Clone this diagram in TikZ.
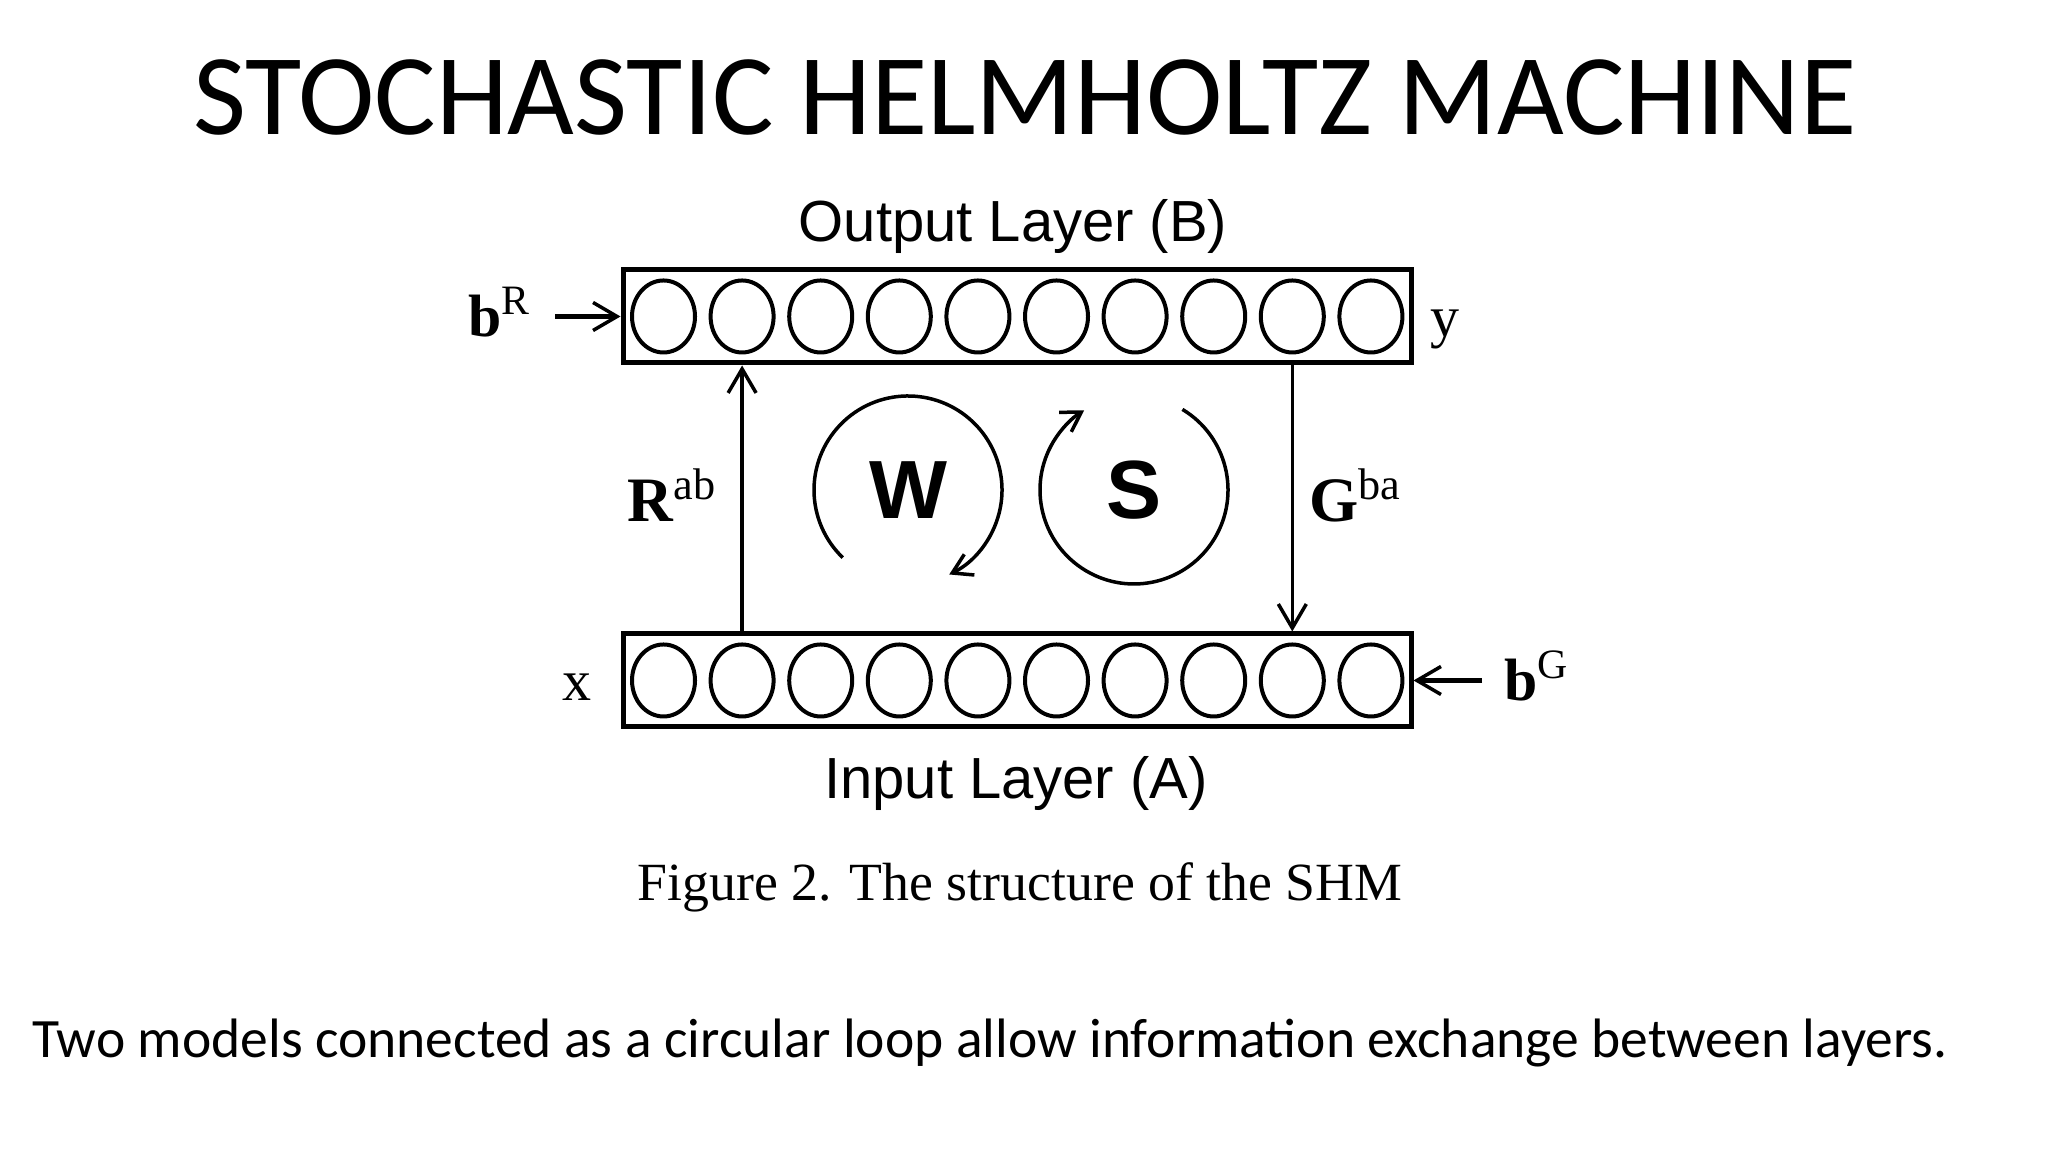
\documentclass[tikz,border=0pt]{standalone}
\usepackage{fontspec}
\setmainfont{Liberation Serif}
\newfontfamily\calibri{Carlito}
\newfontfamily\arial{Liberation Sans}
\usetikzlibrary{shapes.geometric,arrows.meta,positioning}
\tikzset{
	layer/.style={draw, line width=0.5mm, minimum width=78.8mm, minimum height=9.3mm, inner sep=0pt},
	unit/.style={draw, ellipse, line width=0.4mm, minimum width=6.3mm, minimum height=7.2mm, inner sep=0pt},
	feed/.style={line width=0.35mm, -{Straight Barb[length=2.4mm,width=2.8mm,line width=0.35mm]}},
	loop/.style={line width=0.35mm, -{Straight Barb[length=1.9mm,width=2.3mm,line width=0.35mm]}},
	lbl/.style={anchor=base, inner sep=0pt}
}
\begin{document}
\begin{tikzpicture}[x=0.1mm, y=0.1mm]
		\useasboundingbox (0,0) rectangle (2048,1152);
		% title and caption texts
		\node[lbl, font=\calibri\fontsize{32.8}{39}\selectfont] (title) at (1025,1017) {STOCHASTIC HELMHOLTZ MACHINE};
		\node[lbl, font=\calibri\fontsize{15.8}{19}\selectfont] (remark) at (990,94) {Two models connected as a circular loop allow information exchange between layers.};
		\node[lbl, font=\fontsize{15.3}{18}\selectfont] (figcap) at (1020,251) {Figure 2. The structure of the SHM};
		% the two layers
		\node[layer] (outbox) at (1017,835.5) {};
		\node[layer] (inbox) at (1017,471.5) {};
		\foreach \i in {1,...,10} {
			\node[unit] (b\i) at ({663.5+78.6*(\i-1)},835.5) {};
			\node[unit] (a\i) at ({663.5+78.6*(\i-1)},471.5) {};
		}
		\node[lbl, font=\arial\fontsize{16.5}{19}\selectfont] (outname) at (1013,910) {Output Layer (B)};
		\node[lbl, font=\arial\fontsize{16.5}{19}\selectfont] (inname) at (1016,353) {Input Layer (A)};
		% side labels
		\node[lbl, font=\fontsize{16.5}{19}\selectfont] (ylab) at (1445,815) {y};
		\node[lbl, font=\fontsize{16.5}{19}\selectfont] (xlab) at (577,451) {x};
		\node[lbl, font=\fontsize{17}{20}\selectfont] (bR) at (500,815) {\textbf{b}\textsuperscript{R}};
		\node[lbl, font=\fontsize{17}{20}\selectfont] (bG) at (1537,451) {\textbf{b}\textsuperscript{G}};
		\coordinate (bRtail) at (555,835.5);
		\coordinate (bGtail) at (1482,471.5);
		\draw[feed, line width=0.5mm] (bRtail) -- (outbox.west);
		\draw[feed, line width=0.5mm] (bGtail) -- (inbox.east);
		% recognition and generative weights
		\draw[feed] (a2 |- inbox.north) -- (b2 |- outbox.south);
		\draw[feed] (b9 |- outbox.south) -- (a9 |- inbox.north);
		\node[lbl, font=\fontsize{18}{21}\selectfont] (Rab) at (672,630) {\textbf{R}\textsuperscript{ab}};
		\node[lbl, font=\fontsize{18}{21}\selectfont] (Gba) at (1356,630) {\textbf{G}\textsuperscript{ba}};
		% wake and sleep loops
		\node[font=\arial\bfseries\fontsize{23.5}{27}\selectfont] (W) at (908,662) {W};
		\node[font=\arial\bfseries\fontsize{23.5}{27}\selectfont] (S) at (1134,662) {S};
		\draw[loop] ([shift={(226:94)}]W.center) arc[start angle=226, end angle=-64, radius=94];
		\draw[loop] ([shift={(59:94)}]S.center) arc[start angle=59, end angle=-238, radius=94];
\end{tikzpicture}
\end{document}
